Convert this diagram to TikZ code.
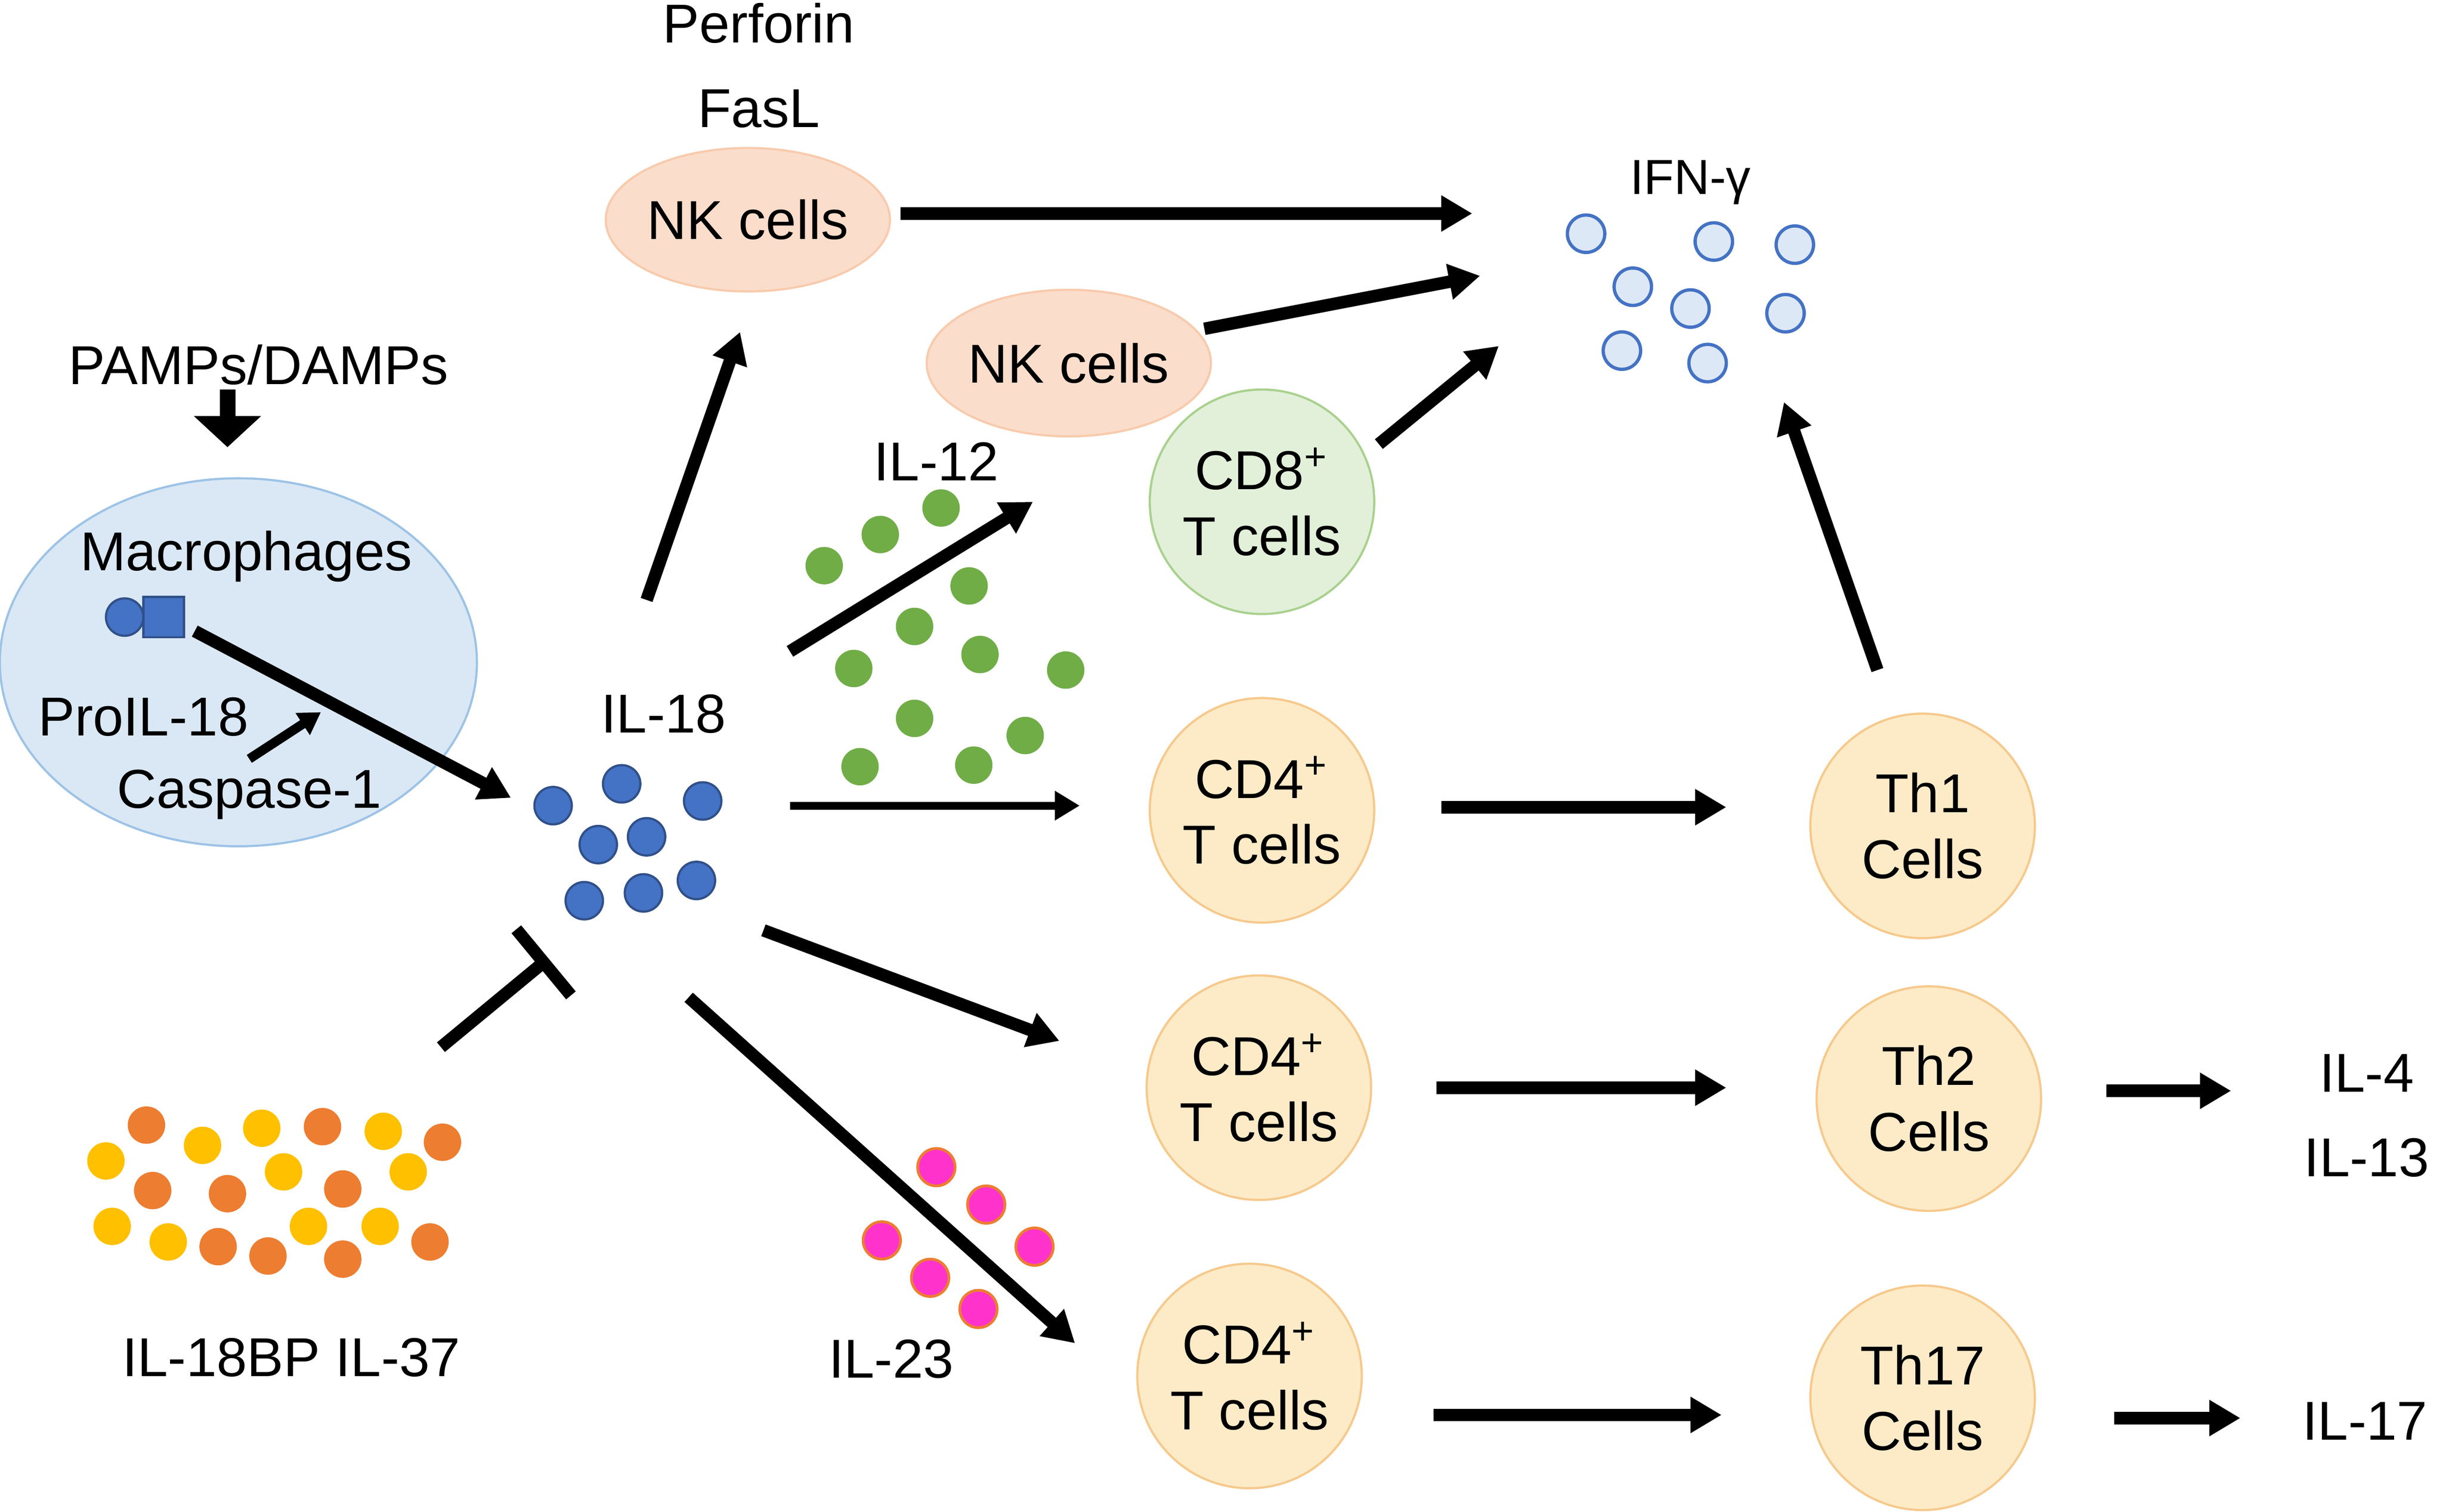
\documentclass[tikz,border=0pt]{standalone}
\usepackage{fontspec}
\setmainfont{Liberation Sans}
\usetikzlibrary{arrows.meta,shapes.geometric}
\definecolor{nkfill}{HTML}{FBDDCB}
\definecolor{nkline}{HTML}{F8CBAD}
\definecolor{cdfill}{HTML}{FDEBC8}
\definecolor{cdline}{HTML}{F6C98C}
\definecolor{cd8fill}{HTML}{E2F0D9}
\definecolor{cd8line}{HTML}{A9D18E}
\definecolor{mfill}{HTML}{DAE8F5}
\definecolor{mline}{HTML}{9DC3E6}
\definecolor{dblue}{HTML}{4472C4}
\definecolor{lblue}{HTML}{DDE8F6}
\definecolor{dgreen}{HTML}{70AD47}
\definecolor{dyellow}{HTML}{FFC000}
\definecolor{dorange}{HTML}{ED7D31}
\definecolor{dpink}{HTML}{FF33CC}
\tikzset{
  lbl/.style={font=\fontsize{10}{12}\selectfont, align=center, inner sep=0pt},
  cell/.style={circle, minimum size=1.44cm, fill=cdfill, draw=cdline, lbl},
  nk/.style={ellipse, minimum width=1.52cm, minimum height=0.92cm, fill=nkfill, draw=nkline, lbl, inner sep=0pt},
  dot/.style={circle, minimum size=0.24cm, inner sep=0pt},
  big/.style={line width=0.08cm, -{Triangle[length=0.2cm,width=0.22cm]}},
}
\begin{document}
\begin{tikzpicture}[x=0.01cm, y=-0.01cm]
    \useasboundingbox (0,0) rectangle (1568,970);
    % Macrophages
    \node[ellipse, minimum width=3.06cm, minimum height=2.36cm, fill=mfill, draw=mline] (mac) at (153,425) {};
    \node[lbl] (pamps) at (166,234) {PAMPs/DAMPs};
    \coordinate (pa) at (146,250);
    \coordinate (pb) at (146,287);
    \draw[line width=0.1cm, -{Triangle[length=0.2cm,width=0.42cm]}] (pa) -- (pb);
    \node[lbl] (macl) at (158,357) {Macrophages};
    \node[dot, fill=dblue, draw=dblue!70!black] (m1) at (80,396) {};
    \node[rectangle, minimum size=0.26cm, inner sep=0pt, fill=dblue, draw=dblue!70!black] (m2) at (105,396) {};
    \node[lbl] (pro) at (92,460) {ProIL-18};
    \node[lbl] (casp) at (160,510) {Caspase-1};
    \coordinate (ca) at (160,487);
    \coordinate (cb) at (206,457);
    \draw[line width=0.06cm, -{Triangle[length=0.14cm,width=0.16cm]}] (ca) -- (cb);
    % IL-18
    \node[lbl] (il18) at (426,458) {IL-18};
    \foreach \i/\x/\y in {1/355/517,2/399/503,3/451/514,4/415/537,5/384/542,6/375/578,7/413/573,8/447/565}
        \node[dot, fill=dblue, draw=dblue!70!black] (b\i) at (\x,\y) {};
    \coordinate (ma) at (125,405);
    \coordinate (mb) at (328,512);
    \draw[big] (ma) -- (mb);
    % NK cells and IFN-gamma
    \node[lbl] (perf) at (487,42) {Perforin\\[0.12cm]FasL};
    \node[nk] (nk1) at (480,141) {NK cells};
    \node[nk, minimum width=1.56cm, minimum height=0.94cm] (nk2) at (686,233) {NK cells};
    \node[cell, fill=cd8fill, draw=cd8line] (cd8) at (810,322) {CD8\textsuperscript{+}\\T cells};
    \node[lbl, font=\fontsize{9}{11}\selectfont] (ifn) at (1085,117) {IFN-γ};
    \foreach \i/\x/\y in {1/1018/150,2/1100/155,3/1152/157,4/1048/184,5/1085/198,6/1146/201,7/1041/225,8/1096/233}
        \node[dot, fill=lblue, draw=dblue, line width=0.6pt] (f\i) at (\x,\y) {};
    % IL-12
    \node[lbl] (il12) at (601,296) {IL-12};
    \foreach \i/\x/\y in {1/565/343,2/604/326,3/529/363,4/622/376,5/587/402,6/548/429,7/629/420,8/684/430,9/587/461,10/658/472,11/552/492,12/625/491}
        \node[dot, fill=dgreen] (g\i) at (\x,\y) {};
    % CD4 and Th cells
    \node[cell] (cd4a) at (810,520) {CD4\textsuperscript{+}\\T cells};
    \node[cell] (cd4b) at (808,698) {CD4\textsuperscript{+}\\T cells};
    \node[cell] (cd4c) at (802,883) {CD4\textsuperscript{+}\\T cells};
    \node[cell] (th1) at (1234,530) {Th1\\Cells};
    \node[cell] (th2) at (1238,705) {Th2\\Cells};
    \node[cell] (th17) at (1234,897) {Th17\\Cells};
    \node[lbl] (il4) at (1519,716) {IL-4\\[0.12cm]IL-13};
    \node[lbl] (il17) at (1518,912) {IL-17};
    % IL-23
    \node[lbl] (il23) at (572,872) {IL-23};
    \foreach \i/\x/\y in {1/601/749,2/633/773,3/566/796,4/664/800,5/597/820,6/628/840}
        \node[dot, fill=dpink, draw=dorange, line width=0.5pt] (p\i) at (\x,\y) {};
    % IL-18BP IL-37
    \node[lbl] (bp) at (187,871) {IL-18BP IL-37};
    \foreach \i/\x/\y in {1/68/745,2/130/735,3/168/724,4/246/726,5/182/752,6/262/752,7/72/787,8/108/797,9/198/787,10/244/787}
        \node[dot, fill=dyellow] (y\i) at (\x,\y) {};
    \foreach \i/\x/\y in {1/94/722,2/207/723,3/284/733,4/98/764,5/146/766,6/220/763,7/140/800,8/172/806,9/276/797,10/220/808}
        \node[dot, fill=dorange] (o\i) at (\x,\y) {};
    \coordinate (ia) at (283,672);
    \coordinate (ib) at (352,615);
    \draw[line width=0.08cm, -{Bar[width=0.55cm]}] (ia) -- (ib);
    % arrows
    \coordinate (a1) at (415,385); \coordinate (a2) at (475,213);
    \draw[big] (a1) -- (a2);
    \coordinate (a3) at (507,418); \coordinate (a4) at (663,322);
    \draw[big] (a3) -- (a4);
    \coordinate (a5) at (578,137); \coordinate (a6) at (945,137);
    \draw[big] (a5) -- (a6);
    \coordinate (a7) at (773,211); \coordinate (a8) at (950,177);
    \draw[big] (a7) -- (a8);
    \coordinate (a9) at (885,285); \coordinate (a10) at (962,222);
    \draw[big] (a9) -- (a10);
    \coordinate (a11) at (1205,430); \coordinate (a12) at (1145,258);
    \draw[big] (a11) -- (a12);
    \coordinate (a13) at (507,517); \coordinate (a14) at (693,517);
    \draw[line width=0.05cm, -{Triangle[length=0.16cm,width=0.18cm]}] (a13) -- (a14);
    \coordinate (a15) at (490,597); \coordinate (a16) at (680,668);
    \draw[big] (a15) -- (a16);
    \coordinate (a17) at (442,640); \coordinate (a18) at (690,862);
    \draw[big] (a17) -- (a18);
    \coordinate (a19) at (925,518); \coordinate (a20) at (1108,518);
    \draw[big] (a19) -- (a20);
    \coordinate (a21) at (922,698); \coordinate (a22) at (1108,698);
    \draw[big] (a21) -- (a22);
    \coordinate (a23) at (920,908); \coordinate (a24) at (1105,908);
    \draw[big] (a23) -- (a24);
    \coordinate (a25) at (1352,700); \coordinate (a26) at (1432,700);
    \draw[big] (a25) -- (a26);
    \coordinate (a27) at (1357,910); \coordinate (a28) at (1438,910);
    \draw[big] (a27) -- (a28);
\end{tikzpicture}
\end{document}
